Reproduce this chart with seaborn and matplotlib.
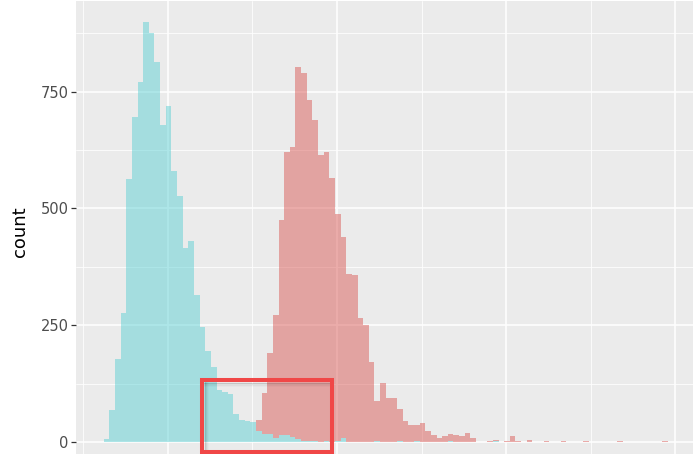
import numpy as np
import pandas as pd
import matplotlib
matplotlib.use("Agg")
import matplotlib.pyplot as plt
from matplotlib.lines import Line2D
from matplotlib.patches import Rectangle
from matplotlib.transforms import IdentityTransform
import seaborn as sns

# shared bin layout: 100 bins of width 1/30
bin_start = 0.622
bin_width = 1 / 30
n_bins = 100

# counts per bin (list index = bin number)
cyan_counts = [6, 69, 177, 277, 564, 695, 770, 899, 875, 814,
               679, 719, 580, 526, 416, 431, 315, 247, 195, 161,
               112, 108, 103, 61, 47, 44, 43, 23, 17, 17,
               8, 14, 14, 10, 7, 3, 2, 2, 1, 2,
               1, 2, 8, 1, 0, 1, 0, 0, 2, 0,
               0, 0, 2, 0, 0, 2, 0, 0, 0, 0,
               0, 2, 0, 0, 0, 0, 0, 0, 0, 2]

red_first_bin = 27
red_counts = [24, 87, 174, 264, 462, 606, 621, 796, 786, 731,
              688, 614, 618, 564, 487, 431, 359, 357, 264, 251,
              172, 85, 127, 95, 95, 68, 45, 36, 34, 41,
              23, 16, 9, 12, 15, 15, 12, 20, 8, 1,
              0, 3, 3, 1, 2, 12, 2, 0, 4, 1,
              1, 3, 0, 0, 3, 0, 0, 0, 3, 0,
              0, 0, 0, 0, 3, 0, 0, 0, 0, 0,
              0, 0, 3]

y_ticks = [0, 250, 500, 750]
y_minor = [125, 375, 625, 875]
x_ticks = [1, 2, 3, 4]
x_minor = [0.5, 1.5, 2.5, 3.5]

group_colors = {"red": "#DB5D59", "cyan": "#5FD1D5"}

# build a long table: one row per bin and group, weighted by count
edges = bin_start + bin_width * np.arange(n_bins + 1)
centers = edges[:-1] + bin_width / 2
cyan_full = np.zeros(n_bins)
cyan_full[:len(cyan_counts)] = cyan_counts
red_full = np.zeros(n_bins)
red_full[red_first_bin:red_first_bin + len(red_counts)] = red_counts
df = pd.concat([
    pd.DataFrame({"x": centers, "n": red_full, "group": "red"}),
    pd.DataFrame({"x": centers, "n": cyan_full, "group": "cyan"}),
], ignore_index=True)

sns.set_theme(style="darkgrid", rc={
    "axes.facecolor": "#EBEBEB",
    "figure.facecolor": "white",
    "grid.color": "white",
})
plt.rcParams["font.family"] = ["DejaVu Sans"]

W, H = 693, 454
fig = plt.figure(figsize=(W / 100, H / 100), dpi=100)
# the reference is a crop: panel runs past the right and bottom edges
ax = fig.add_axes([75.5 / W, -9 / H, 620.5 / W, 462 / H])

sns.histplot(data=df, x="x", weights="n", hue="group", hue_order=["red", "cyan"],
             multiple="stack", bins=list(edges), element="step", fill=True,
             palette=group_colors, alpha=0.5, linewidth=0, legend=False, ax=ax)

span = edges[-1] - edges[0]
ax.set_xlim(edges[0] - 0.05 * span, edges[-1] + 0.05 * span)
top = (cyan_full + red_full).max()
ax.set_ylim(-0.05 * top, 1.05 * top)

ax.set_yticks(y_ticks)
ax.set_yticks(y_minor, minor=True)
ax.set_xticks(x_ticks)
ax.set_xticks(x_minor, minor=True)
ax.set_xticklabels([])
ax.set_xlabel("")
ax.set_axisbelow(True)
ax.grid(which="major", color="white", linewidth=1.1)
ax.grid(which="minor", color="white", linewidth=0.55)
for s in ax.spines.values():
    s.set_visible(False)
ax.tick_params(axis="y", which="major", length=3.6, width=0.9, color="#333333",
               labelcolor="#4D4D4D", labelsize=10.5, pad=1.5, left=True)
ax.tick_params(axis="both", which="minor", length=0)
ax.tick_params(axis="x", which="major", length=0)

ax.set_ylabel("count", fontsize=13, color="black")
ax.yaxis.set_label_coords(-0.075, 0.5)

# red highlight box (image pixel coords, top-left origin) with a soft inner shadow
bx0, by0, bx1, by1 = 202, 380, 332, 452
for i, a in enumerate([0.16, 0.10, 0.05, 0.02]):
    fig.add_artist(Line2D([bx0 + 2, bx1 - 2], [H - (by0 + 2.5 + i)] * 2, color="black",
                          alpha=a, linewidth=0.75, transform=IdentityTransform()))
    fig.add_artist(Line2D([bx0 + 2.5 + i] * 2, [H - (by0 + 2), H - (by1 - 2)], color="black",
                          alpha=a, linewidth=0.75, transform=IdentityTransform()))
fig.add_artist(Rectangle((bx0, H - by1), bx1 - bx0, by1 - by0, fill=False,
                         edgecolor="#F04747", linewidth=2.9, transform=IdentityTransform(),
                         zorder=10))

fig.savefig("out.png", dpi=100)
